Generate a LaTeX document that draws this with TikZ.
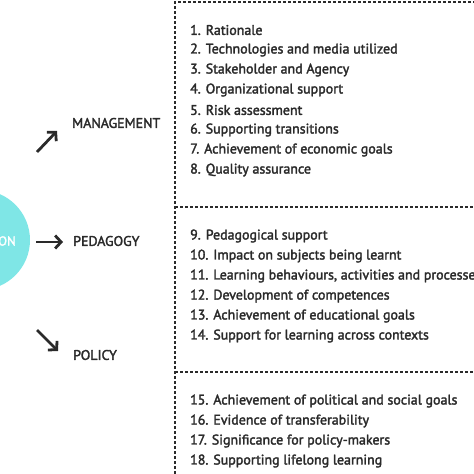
\documentclass[tikz,border=0pt]{standalone}
\usepackage{fontspec}
\setmainfont{PT Sans}[FakeBold=2.2]
\usetikzlibrary{positioning,arrows.meta}
\definecolor{evalcyan}{HTML}{7FE6E6}
\definecolor{inkgray}{HTML}{2A2A2A}

\begin{document}
\begin{tikzpicture}[
    x=1bp, y=-1bp,
    dotline/.style={line width=2.8bp, dash pattern=on 2.6bp off 2.4bp, inkgray},
    area/.style={font=\fontsize{14}{16}\selectfont, text=inkgray, inner sep=0pt},
    item/.style={anchor=west, font=\fontsize{14}{16}\selectfont, text=inkgray, inner sep=0pt},
    arrow/.style={-{Straight Barb[length=6bp, width=13bp]}, line width=2.8bp, inkgray}
]
\useasboundingbox (0,0) rectangle (474,474);

% Evaluation circle (cut by the left edge)
\fill[evalcyan] (-20,240) circle (50);
\node[font=\fontsize{13}{15}\selectfont, text=white, anchor=east, inner sep=0pt] (evallabel) at (16,241) {ON};

% The three areas
\node[area, anchor=west] (management) at (72,123) {MANAGEMENT};
\node[area, anchor=west] (pedagogy) at (73,241) {PEDAGOGY};
\node[area, anchor=west] (policy) at (73,355) {POLICY};

% Arrows from the circle
\coordinate (mstart) at (37,152);
\coordinate (mend) at (57,131);
\coordinate (pstart) at (36,242);
\coordinate (pend) at (63,242);
\coordinate (qstart) at (37,330);
\coordinate (qend) at (58,351);
\draw[arrow] (mstart) -- (mend);
\draw[arrow] (pstart) -- (pend);
\draw[arrow] (qstart) -- (qend);

% Dotted frame and separators
\coordinate (frametop) at (175,2);
\coordinate (framebottom) at (175,474);
\coordinate (topright) at (474,2);
\coordinate (sepone) at (175,207);
\coordinate (seponeend) at (474,207);
\coordinate (septwo) at (175,372);
\coordinate (septwoend) at (474,372);
\draw[dotline] (framebottom) -- (frametop) -- (topright);
\draw[dotline] (sepone) -- (seponeend);
\draw[dotline] (septwo) -- (septwoend);

% Criteria lists
\foreach \txt [count=\i] in {1. Rationale, 2. Technologies and media utilized, 3. Stakeholder and Agency, 4. Organizational support, 5. Risk assessment, 6. Supporting transitions, 7. Achievement of economic goals, 8. Quality assurance}
    \node[item] (crit\i) at (190,30+20*\i-20) {\txt};
\foreach \txt [count=\i from 9] in {9. Pedagogical support, 10. Impact on subjects being learnt, {11. Learning behaviours, activities and processes}, 12. Development of competences, 13. Achievement of educational goals, 14. Support for learning across contexts}
    \node[item] (crit\i) at (190,236+20*\i-180) {\txt};
\foreach \txt [count=\i from 15] in {15. Achievement of political and social goals, 16. Evidence of transferability, 17. Significance for policy-makers, 18. Supporting lifelong learning}
    \node[item] (crit\i) at (190,401+20*\i-300) {\txt};

\end{tikzpicture}
\end{document}
